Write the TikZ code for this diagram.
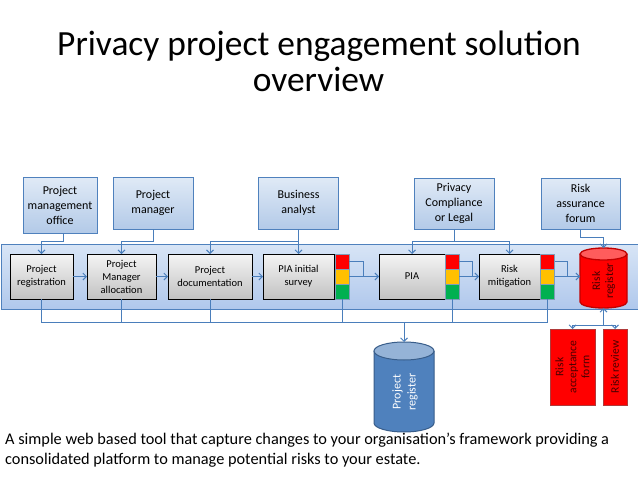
\documentclass[tikz,border=0pt]{standalone}
\usepackage{fontspec}
\setmainfont{Carlito}
\usetikzlibrary{arrows.meta}
\definecolor{lineblue}{HTML}{4A7EBB}
\definecolor{boxborder}{HTML}{4F81BD}
\definecolor{topA}{HTML}{E0EAF6}
\definecolor{topB}{HTML}{B3CAE8}
\definecolor{bandA}{HTML}{D8E5F6}
\definecolor{bandB}{HTML}{B0C8EC}
\definecolor{greyA}{HTML}{F4F4F4}
\definecolor{greyB}{HTML}{C2C2C2}
\definecolor{lightborder}{HTML}{7F9DB9}
\definecolor{tlred}{HTML}{FF0000}
\definecolor{tlyellow}{HTML}{FFC000}
\definecolor{tlgreen}{HTML}{00B050}
\definecolor{redbody}{HTML}{FF0000}
\definecolor{redtop}{HTML}{FF5C5C}
\definecolor{redborder}{HTML}{C00000}
\definecolor{redboxborder}{HTML}{B03A3A}
\definecolor{redtext}{HTML}{4A0000}
\definecolor{bluebody}{HTML}{4F81BD}
\definecolor{bluetop}{HTML}{95B3D7}
\definecolor{blueborder}{HTML}{385D8A}
\begin{document}
\begin{tikzpicture}[x=1pt,y=-1pt,
  conn/.style={draw=lineblue, line width=0.9pt},
  arr/.style={conn, -{Straight Barb[length=3.5pt,width=7pt]}},
  topbox/.style={draw=boxborder, line width=0.8pt, top color=topA, bottom color=topB, align=center, inner sep=0pt, outer sep=0pt, font=\fontsize{12}{15}\selectfont},
  procbox/.style={draw=black, line width=0.8pt, top color=greyA, bottom color=greyB, align=center, inner sep=0pt, outer sep=0pt, minimum height=45pt, font=\fontsize{10.5}{13}\selectfont},
  tlight/.style={draw=lightborder, line width=0.5pt, minimum width=14pt, minimum height=15pt, inner sep=0pt, outer sep=0pt},
  redbox/.style={draw=redboxborder, line width=0.8pt, fill=redbody, minimum height=76pt, inner sep=0pt, outer sep=0pt},
  redlabel/.style={rotate=90, align=center, text=redtext, font=\fontsize{11.5}{13}\selectfont}
]
\useasboundingbox (0,0) rectangle (638,479);
\fill[white] (0,0) rectangle (638,479);

% title
\node[anchor=base, font=\fontsize{35.4}{37}\selectfont] (t1) at (319,55) {Privacy project engagement solution};
\node[anchor=base, font=\fontsize{35.4}{37}\selectfont] (t2) at (318.5,91) {overview};

% band
\node[draw=boxborder, line width=0.8pt, top color=bandA, bottom color=bandB, minimum width=637pt, minimum height=65pt, inner sep=0pt] (band) at (319.5,276.5) {};

% top boxes
\node[topbox, minimum width=74pt, minimum height=56pt] (pmo) at (60,205) {Project\\management\\office};
\node[topbox, minimum width=80pt, minimum height=52pt] (pm) at (153,203) {Project\\manager};
\node[topbox, minimum width=80pt, minimum height=52pt] (ba) at (298.5,203) {Business\\analyst};
\node[topbox, minimum width=80pt, minimum height=51pt] (pcl) at (454,203.5) {Privacy\\Compliance\\or Legal};
\node[topbox, minimum width=79pt, minimum height=51pt] (raf) at (580.5,203.5) {Risk\\assurance\\forum};

% process boxes
\node[procbox, minimum width=63pt] (reg) at (41.5,276.5) {Project\\registration};
\node[procbox, minimum width=69pt] (pma) at (121.5,276.5) {Project\\Manager\\allocation};
\node[procbox, minimum width=84pt] (doc) at (210,276.5) {Project\\documentation};
\node[procbox, minimum width=71pt] (pis) at (298.5,276.5) {PIA initial\\survey};
\node[procbox, minimum width=66pt] (pia) at (412,276.5) {PIA};
\node[procbox, minimum width=61pt] (rm) at (509.5,276.5) {Risk\\mitigation};

% traffic lights
\foreach \n/\x in {l1/342,l2/452,l3/547.5}{
  \node[tlight, fill=tlred] (\n r) at (\x,261.5) {};
  \node[tlight, fill=tlyellow] (\n y) at (\x,276.5) {};
  \node[tlight, fill=tlgreen] (\n g) at (\x,291.5) {};
}

% risk register cylinder (red)
\fill[redbody] (580,254) -- (580,302) arc[start angle=180,end angle=360,x radius=23.5pt,y radius=6pt] -- (627,254) -- cycle;
\draw[redborder, line width=1.3pt] (580,254) -- (580,302) arc[start angle=180,end angle=360,x radius=23.5pt,y radius=6pt] -- (627,254);
\draw[redborder, line width=1.3pt, fill=redtop] (603.5,254) ellipse [x radius=23.5pt, y radius=6pt];
\node[redlabel] (rrlab) at (603.5,281) {Risk\\register};
\coordinate (rrtop) at (603.5,248);
\coordinate (rrbot) at (603.5,308);
\coordinate (rrwest) at (580,276.5);

% project register cylinder (blue)
\fill[bluebody] (374,351) -- (374,423) arc[start angle=180,end angle=360,x radius=30pt,y radius=9pt] -- (434,351) -- cycle;
\draw[blueborder, line width=1pt] (374,351) -- (374,423) arc[start angle=180,end angle=360,x radius=30pt,y radius=9pt] -- (434,351);
\draw[blueborder, line width=1pt, fill=bluetop] (404,351) ellipse [x radius=30pt, y radius=9pt];
\node[rotate=90, align=center, text=white, font=\fontsize{12}{15}\selectfont] (prlab) at (405,392) {Project\\register};
\coordinate (prtop) at (404,342);

% red boxes
\node[redbox, minimum width=45pt] (raform) at (572.5,367) {};
\node[redlabel] (raformlab) at (raform.center) {Risk\\acceptance\\form};
\node[redbox, minimum width=24pt] (rrev) at (615,367) {};
\node[redlabel] (rrevlab) at (rrev.center) {Risk review};

% connectors from top boxes
\draw[arr] ([xshift=3pt]pmo.south) -- ++(0,8) -| (reg.north);
\draw[arr] (pm.south) -- ++(0,12) -| (pma.north);
\draw[arr] (ba.south) -- (pis.north);
\draw[arr] (ba.south) -- ++(0,12) -| (doc.north);
\draw[conn] (pcl.south) -- ++(0,12) coordinate (pclj);
\draw[arr] (pclj) -| (pia.north);
\draw[arr] (pclj) -| (rm.north);
\draw[arr] (raf.south) -- ++(0,8) -| (rrtop);

% process flow
\draw[arr] (reg.east) -- (pma.west);
\draw[arr] (pma.east) -- (doc.west);
\draw[arr] (doc.east) -- (pis.west);
\draw[conn] (l1r.east) -- ++(14,0) -- ++(0,15);
\draw[arr] (l1y.east) -- (pia.west);
\draw[conn] (l2r.east) -- ++(13,0) -- ++(0,15);
\draw[arr] (l2y.east) -- (rm.west);
\draw[conn] (l3r.east) -- ++(13,0) -- ++(0,15);
\draw[arr] (l3y.east) -- (rrwest);

% bus to project register
\coordinate (busL) at (41.5,322);
\draw[conn] (reg.south) -- (busL) -- (busL -| l3g.south) -- (l3g.south);
\draw[conn] (pma.south) -- (pma.south |- busL);
\draw[conn] (doc.south) -- (doc.south |- busL);
\draw[conn] (l1g.south) -- (l1g.south |- busL);
\draw[conn] (l2g.south) -- (l2g.south |- busL);
\draw[arr] (prtop |- busL) -- (prtop);

% risk register links
\coordinate (rj) at (603.5,325);
\draw[arr] (rj) -- (rrbot);
\draw[arr] (rj) -| (raform.north);
\draw[arr] (rj) -| (rrev.north);

% description
\node[anchor=base west, inner sep=0pt, font=\fontsize{16.3}{20}\selectfont] (d1) at (5,444) {A simple web based tool that capture changes to your organisation’s framework providing a};
\node[anchor=base west, inner sep=0pt, font=\fontsize{16.3}{20}\selectfont] (d2) at (5,464) {consolidated platform to manage potential risks to your estate.};
\end{tikzpicture}
\end{document}
